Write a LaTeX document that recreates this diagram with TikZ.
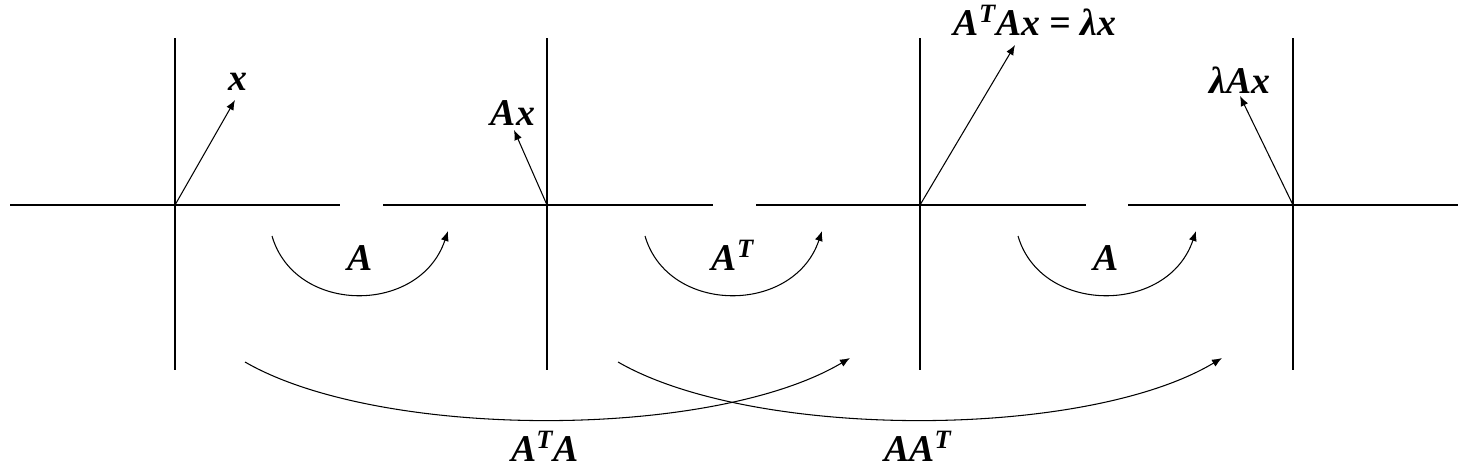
\documentclass[tikz,border=0pt]{standalone}
\usepackage{fontspec}
\setmainfont{Liberation Serif}[
    BoldFont={Liberation Serif Bold},
    ItalicFont={Liberation Serif Italic},
    BoldItalicFont={Liberation Serif Bold Italic}]
\usetikzlibrary{positioning,arrows.meta}

\begin{document}
\begin{tikzpicture}[x=0.02cm,y=-0.02cm,line width=0.6pt,
    >={Latex[length=2mm,width=1.6mm]},
    lbl/.style={font=\fontsize{21.5}{24}\selectfont\bfseries\itshape, inner sep=0pt}]
    \useasboundingbox (0,0) rectangle (1466,470);

    % Origins of the four planes
    \coordinate (o1) at (175,205);
    \coordinate (o2) at (547,205);
    \coordinate (o3) at (920,205);
    \coordinate (o4) at (1293,205);

    % Axes
    \draw (10,205) -- (340,205);    \draw (175,38) -- (175,370);
    \draw (383,205) -- (713,205);   \draw (547,38) -- (547,370);
    \draw (756,205) -- (1086,205);  \draw (920,38) -- (920,370);
    \draw (1128,205) -- (1458,205); \draw (1293,38) -- (1293,370);

    % Vectors
    \node[lbl] (x) at (238,82) {x};
    \coordinate (xtip) at (235,100);
    \draw[->] (o1) -- (xtip);

    \node[lbl] (Ax) at (513,113) {Ax};
    \coordinate (Axtip) at (514,130);
    \draw[->] (o2) -- (Axtip);

    \node[lbl] (ATAx) at (1035,20) {A\textsuperscript{T}Ax = λx};
    \coordinate (ATAxtip) at (1015,45);
    \draw[->] (o3) -- (ATAxtip);

    \node[lbl] (lAx) at (1240,80) {λAx};
    \coordinate (lAxtip) at (1240,96);
    \draw[->] (o4) -- (lAxtip);

    % Small maps between neighbouring planes
    \coordinate (s1) at (272,236);  \coordinate (e1) at (448,231);
    \coordinate (s2) at (645,236);  \coordinate (e2) at (822,231);
    \coordinate (s3) at (1018,236); \coordinate (e3) at (1196,231);
    \draw[->] (s1) .. controls (295,315) and (420,315) .. (e1);
    \draw[->] (s2) .. controls (668,315) and (794,315) .. (e2);
    \draw[->] (s3) .. controls (1041,315) and (1168,315) .. (e3);
    \node[lbl] (map1) at (360,258) {A};
    \node[lbl] (map2) at (733,255) {A\textsuperscript{T}};
    \node[lbl] (map3) at (1106,258) {A};

    % Long maps over two planes
    \coordinate (bs1) at (245,362); \coordinate (be1) at (850,358);
    \coordinate (bs2) at (618,362); \coordinate (be2) at (1222,358);
    \draw[->] (bs1) .. controls (380,440) and (712,440) .. (be1);
    \draw[->] (bs2) .. controls (753,440) and (1085,440) .. (be2);
    \node[lbl] (ATA) at (545,446) {A\textsuperscript{T}A};
    \node[lbl] (AAT) at (918,446) {AA\textsuperscript{T}};
\end{tikzpicture}
\end{document}
